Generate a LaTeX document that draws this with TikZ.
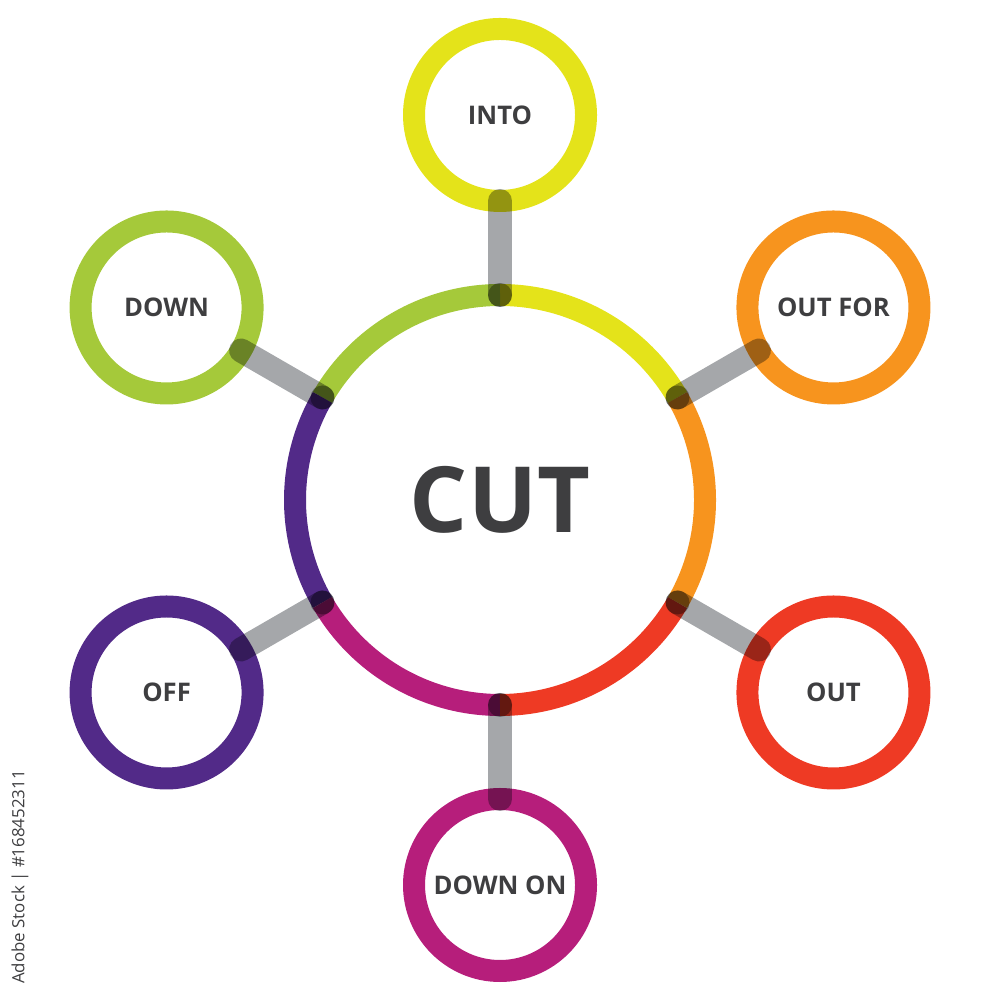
\documentclass[tikz,border=0pt]{standalone}
\usepackage{fontspec}
\setmainfont{Open Sans}
\usetikzlibrary{positioning}

\definecolor{textgray}{HTML}{3E3E40}
\definecolor{linkgray}{HTML}{A5A7AA}
\definecolor{intocol}{HTML}{E4E31A}
\definecolor{downcol}{HTML}{A5C93A}
\definecolor{outforcol}{HTML}{F7941E}
\definecolor{outcol}{HTML}{EE3A24}
\definecolor{downoncol}{HTML}{B61E7B}
\definecolor{offcol}{HTML}{522A88}

\begin{document}
\begin{tikzpicture}[
    ring/.style={circle, draw=#1, line width=0.22cm, minimum size=1.72cm, inner sep=0pt, outer sep=0pt,
      text=textgray, font=\fontsize{7.3}{8}\selectfont\bfseries},
    link/.style={line width=0.24cm, line cap=round, draw=linkgray, blend mode=multiply}]
    \useasboundingbox (0,0) rectangle (10,10);
    \node[circle, minimum size=4.1cm, inner sep=0pt, outer sep=0pt, text=textgray,
      font=\fontsize{26}{28}\selectfont\bfseries] (cut) at (5,5) {CUT};
    % ring round the hub
    \foreach \a/\c in {30/intocol,90/downcol,150/offcol,210/downoncol,270/outcol,330/outforcol} {
      \draw[\c, line width=0.22cm] (cut.center) ++(\a:2.05) arc[start angle=\a, delta angle=60, radius=2.05];
    }
    \node[ring=intocol] (into) at ([shift={(90:3.85)}]cut.center) {INTO};
    \node[ring=downcol] (down) at ([shift={(150:3.85)}]cut.center) {DOWN};
    \node[ring=outforcol] (outfor) at ([shift={(30:3.85)}]cut.center) {OUT FOR};
    \node[ring=offcol] (off) at ([shift={(210:3.85)}]cut.center) {OFF};
    \node[ring=outcol] (out) at ([shift={(330:3.85)}]cut.center) {OUT};
    \node[ring=downoncol] (downon) at ([shift={(270:3.85)}]cut.center) {DOWN ON};
    \foreach \n/\a in {into/90,down/150,outfor/30,off/210,out/330,downon/270} {
      \draw[link] (cut) -- (\n);
      \fill[linkgray, blend mode=multiply] (cut.\a) circle (0.12);
    }
    \node[rotate=90, text=textgray, font=\fontsize{4.8}{5}\selectfont] (stockid) at (0.2,1.23) {Adobe Stock | \#168452311};
\end{tikzpicture}
\end{document}
